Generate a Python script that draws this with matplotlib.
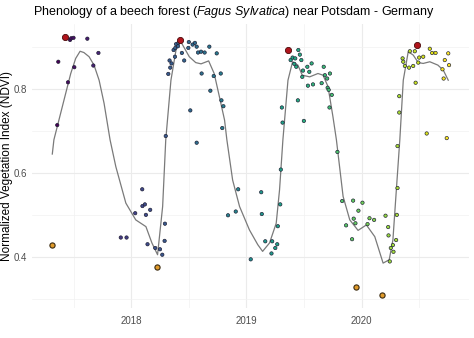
import numpy as np
import matplotlib
matplotlib.use("Agg")
from matplotlib import pyplot as plt
from matplotlib.ticker import FixedLocator

plt.rcParams['font.family'] = ['Liberation Sans', 'DejaVu Sans']
plt.rcParams['mathtext.fontset'] = 'custom'
plt.rcParams['mathtext.rm'] = 'Liberation Sans'
plt.rcParams['mathtext.it'] = 'Liberation Sans:italic'

# observations (decimal year, NDVI)
obs_date = [2017.359, 2017.368, 2017.452, 2017.47, 2017.48, 2017.50, 2017.507, 2017.62, 2017.672, 2017.716,
            2017.91, 2017.96, 2018.035, 2018.096, 2018.098, 2018.119, 2018.128, 2018.165, 2018.142, 2018.209,
            2018.25, 2018.27, 2018.29, 2018.293,
            2018.30, 2018.322, 2018.339, 2018.35, 2018.333, 2018.38, 2018.368, 2018.383, 2018.389, 2018.406,
            2018.41, 2018.44, 2018.46, 2018.50, 2018.496, 2018.533, 2018.553, 2018.568, 2018.58, 2018.606,
            2018.637, 2018.678, 2018.742, 2018.611, 2018.716, 2018.777, 2018.687, 2018.783, 2018.80, 2018.513,
            2018.79, 2018.568,
            2018.84, 2018.907, 2018.928, 2019.037, 2019.128, 2019.133, 2019.163, 2019.223, 2019.267, 2019.25,
            2019.217, 2019.272, 2019.293, 2019.298,
            2019.307, 2019.313, 2019.383, 2019.40, 2019.423, 2019.415, 2019.432, 2019.446, 2019.45, 2019.463,
            2019.476, 2019.49, 2019.484, 2019.498, 2019.528, 2019.533, 2019.545, 2019.565, 2019.577, 2019.652,
            2019.67, 2019.68, 2019.70, 2019.704, 2019.713, 2019.72, 2019.724, 2019.74,
            2019.789, 2019.83, 2019.864, 2019.916, 2019.925, 2019.93, 2019.945, 2019.971, 2020.006, 2020.05,
            2020.067, 2020.107, 2020.206, 2020.229, 2020.232, 2020.243, 2020.252, 2020.27, 2020.275, 2020.298,
            2020.304, 2020.31, 2020.31,
            2020.325, 2020.325, 2020.354, 2020.36, 2020.374, 2020.41, 2020.417, 2020.446, 2020.46, 2020.467,
            2020.49, 2020.498, 2020.533, 2020.563, 2020.59, 2020.61, 2020.64, 2020.70, 2020.71, 2020.72,
            2020.737, 2020.75, 2020.757]
obs_ndvi = [0.714, 0.865, 0.816, 0.917, 0.921, 0.922, 0.852, 0.920, 0.856, 0.886,
            0.446, 0.446, 0.504, 0.561, 0.521, 0.525, 0.500, 0.512, 0.430, 0.421,
            0.418, 0.405, 0.438, 0.479,
            0.688, 0.836, 0.851, 0.861, 0.868, 0.877, 0.893, 0.898, 0.907, 0.902,
            0.910, 0.886, 0.868, 0.912, 0.898, 0.906, 0.910, 0.901, 0.887, 0.889,
            0.887, 0.901, 0.885, 0.837, 0.831, 0.837, 0.796, 0.773, 0.759, 0.749,
            0.707, 0.672,
            0.499, 0.508, 0.561, 0.394, 0.554, 0.502, 0.437, 0.437, 0.430, 0.421,
            0.408, 0.473, 0.525, 0.608,
            0.756, 0.720, 0.869, 0.875, 0.873, 0.860, 0.853, 0.773, 0.893, 0.882,
            0.869, 0.844, 0.829, 0.724, 0.853, 0.808, 0.841, 0.861, 0.811, 0.814,
            0.853, 0.833, 0.825, 0.803, 0.798, 0.756, 0.837, 0.786,
            0.650, 0.533, 0.475, 0.442, 0.534, 0.491, 0.480, 0.510, 0.529, 0.478,
            0.492, 0.488, 0.498, 0.471, 0.451, 0.389, 0.421, 0.428, 0.412, 0.440,
            0.500, 0.564, 0.664,
            0.783, 0.744, 0.873, 0.865, 0.855, 0.851, 0.890, 0.855, 0.890, 0.815,
            0.863, 0.875, 0.877, 0.694, 0.896, 0.886, 0.886, 0.847, 0.825, 0.869,
            0.683, 0.885, 0.857]

# seasonal maxima and minima
max_date = [2017.424, 2018.426, 2019.363, 2020.478]
max_ndvi = [0.924, 0.917, 0.894, 0.904]
min_date = [2017.313, 2018.226, 2019.954, 2020.177]
min_ndvi = [0.427, 0.375, 0.327, 0.309]

# smoothed curve
fit_date = [2017.316, 2017.330, 2017.403, 2017.476, 2017.519, 2017.557, 2017.59, 2017.635, 2017.678, 2017.722,
            2017.765, 2017.817, 2017.867, 2017.954, 2018.04, 2018.128, 2018.18, 2018.229, 2018.273, 2018.30,
            2018.345, 2018.389, 2018.426, 2018.504, 2018.56, 2018.606, 2018.672, 2018.72, 2018.765, 2018.81,
            2018.83, 2018.88, 2018.94, 2019.026, 2019.098, 2019.14, 2019.2, 2019.258, 2019.287, 2019.316,
            2019.36, 2019.40, 2019.446, 2019.484, 2019.548, 2019.62, 2019.664, 2019.707, 2019.75, 2019.78,
            2019.838, 2019.896, 2019.968, 2020.04, 2020.113, 2020.185, 2020.238, 2020.27, 2020.30, 2020.33,
            2020.36, 2020.403, 2020.446, 2020.49, 2020.533, 2020.59, 2020.66, 2020.707, 2020.75]
fit_ndvi = [0.645, 0.679, 0.758, 0.837, 0.873, 0.890, 0.887, 0.877, 0.857, 0.821,
            0.766, 0.679, 0.615, 0.528, 0.488, 0.472, 0.433, 0.405, 0.520, 0.679,
            0.821, 0.893, 0.915, 0.877, 0.863, 0.860, 0.867, 0.837, 0.782, 0.726,
            0.679, 0.583, 0.520, 0.464, 0.429, 0.413, 0.433, 0.480, 0.560, 0.679,
            0.821, 0.865, 0.857, 0.833, 0.829, 0.837, 0.833, 0.806, 0.734, 0.679,
            0.544, 0.488, 0.463, 0.476, 0.448, 0.385, 0.393, 0.440, 0.560, 0.679,
            0.821, 0.889, 0.881, 0.863, 0.861, 0.865, 0.857, 0.845, 0.821]

year_ticks = [2018, 2019, 2020]

fig = plt.figure(figsize=(4.74, 3.38), dpi=100)
ax = fig.add_axes([32/474, 30/338, 437/474, 284/338])

ax.set_xlim(2017.14, 2020.93)
ax.set_ylim(0.278, 0.955)
ax.xaxis.set_major_locator(FixedLocator(year_ticks))
ax.xaxis.set_minor_locator(FixedLocator([y - 0.5 for y in year_ticks] + [2020.5]))
ax.set_xticklabels([str(y) for y in year_ticks])
ax.yaxis.set_major_locator(FixedLocator([0.4, 0.6, 0.8]))
ax.yaxis.set_minor_locator(FixedLocator([0.3, 0.5, 0.7, 0.9]))
ax.grid(which='major', color='#ebebeb', linewidth=0.8)
ax.grid(which='minor', color='#f2f2f2', linewidth=0.5)
ax.set_axisbelow(True)
for s in ax.spines.values():
    s.set_visible(False)
ax.tick_params(which='both', length=0, labelsize=7, labelcolor='#4d4d4d')
ax.tick_params(axis='x', pad=6)
ax.tick_params(axis='y', pad=3.5)

ax.plot(fit_date, fit_ndvi, color='#7a7a7a', linewidth=0.9, zorder=2)
ax.scatter(obs_date, obs_ndvi, c=obs_date, cmap='viridis', s=6, edgecolors='#1a1a2e',
           linewidths=0.45, zorder=3)
ax.scatter(max_date, max_ndvi, color='#b0141c', s=20, edgecolors='#4a0a0a', linewidths=0.6, zorder=4)
ax.scatter(min_date, min_ndvi, color='#e09a2a', s=14, edgecolors='#3a2a10', linewidths=0.8, zorder=4)

ax.set_ylabel('Normalized Vegetation Index (NDVI)', fontsize=8.5, color='black')
ax.yaxis.set_label_coords(-19/437, 0.5)
fig.text(33/474, 1 - 12/338, r'Phenology of a beech forest $\it{(Fagus\ Sylvatica)}$ near Potsdam - Germany',
         fontsize=9, va='center', ha='left')

fig.savefig('out.png', dpi=100)
